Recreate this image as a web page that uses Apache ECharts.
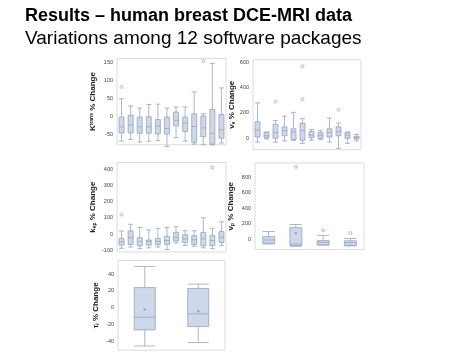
<!DOCTYPE html>
<html><head><meta charset="utf-8">
<script src="https://cdn.jsdelivr.net/npm/echarts@6/dist/echarts.min.js"></script>
<style>html,body{margin:0;padding:0;background:#fff}#c{width:474px;height:355px}</style>
</head><body><div id="c"></div>
<script>
// ---- data ----
const titleText = 'Results – human breast DCE-MRI data';
const subtitleText = 'Variations among 12 software packages';
const packages12 = ['1','2','3','4','5','6','7','8','9','10','11','12'];
const packages4 = ['1','2','3','4'];
const packages2 = ['1','2'];

// [min, Q1, median, Q3, max]
const ktransBoxes = [
  [-70,-47,-30,-3,48],[-65,-47,-25,2,28],[-72,-48,-30,-3,22],[-70,-48,-30,-2,32],
  [-68,-50,-28,-10,33],[-85,-50,-35,-3,22],[-60,-27,-12,11,25],[-70,-43,-20,-3,25],
  [-78,-73,-29,6,67],[-80,-57,-33,0,6],[-80,-78,-48,18,146],[-75,-62,-38,4,78]
];
const ktransOutliers = [[0,81],[9,153]];

const veBoxes = [
  [-30,10,65,130,280],[-5,5,20,45,50],[-30,0,45,110,140],[-20,20,60,90,175],
  [-15,-10,50,75,205],[-40,-15,60,120,155],[-15,5,25,55,70],[-10,0,25,45,60],
  [-30,10,45,75,160],[-80,20,55,90,120],[-40,0,25,45,50],[-20,-5,5,15,30]
];
const veOutliers = [[2,290],[5,570],[5,310],[9,225]];

const kepBoxes = [
  [-88,-68,-47,-27,19],[-80,-64,-23,19,60],[-90,-72,-45,-23,40],[-85,-68,-45,-37,25],
  [-80,-64,-45,-27,35],[-95,-64,-40,-15,40],[-55,-43,-20,10,45],[-70,-52,-30,-5,20],
  [-75,-64,-35,-10,20],[-85,-72,-30,10,100],[-90,-72,-40,-10,35],[-70,-52,-20,15,75]
];
const kepOutliers = [[0,120],[10,410]];

const vpBoxes = [
  [-60,-51,-9,34,100],[-90,-81,-60,150,190],[-75,-73,-40,-17,50],[-85,-80,-45,-20,10]
];
const vpOutliers = [[1,930],[2,115],[3,80]];
const vpMeans = [[1,80]];

const tauBoxes = [
  [-45,-26,-11,24,49],[-41,-22,-7,23,28]
];
const tauMeans = [[0,-2],[1,-4]];

// y tick label steps
const ktransTickStep = 50, veTickStep = 200, kepTickStep = 100, vpTickStep = 200, tauTickStep = 20;

// ---- chart ----
const chart = echarts.init(document.getElementById('c'));
const boxColor = '#cdd8eb', boxBorder = '#95a5c3';
const nameRich = {
  b:{fontSize:8,fontWeight:'bold',color:'#222',fontFamily:'Liberation Sans'},
  sup:{fontSize:5,fontWeight:'bold',color:'#222',verticalAlign:'top',fontFamily:'Liberation Sans'},
  sub:{fontSize:5,fontWeight:'bold',color:'#222',verticalAlign:'bottom',fontFamily:'Liberation Sans'}
};
function yAx(gi,min,max,step,lbl,name,gap){
  return {type:'value',gridIndex:gi,min:min,max:max,interval:step,
    splitLine:{show:false},axisLine:{show:false},axisTick:{show:false},
    axisLabel:{fontSize:5.5,color:'#444',margin:4,fontFamily:'Liberation Sans',
      formatter:function(v){return (Math.round(v)%lbl===0)?String(Math.round(v)):'';}},
    name:name,nameLocation:'middle',nameGap:gap,nameRotate:90,nameTextStyle:{rich:nameRich}};
}
function xAx(gi,cats){
  return {type:'category',gridIndex:gi,data:cats,axisLine:{show:false},axisTick:{show:false},axisLabel:{show:false},splitLine:{show:false}};
}
function box(gi,data,w){
  return {type:'boxplot',xAxisIndex:gi,yAxisIndex:gi,data:data,boxWidth:[w,w],
    itemStyle:{color:boxColor,borderColor:boxBorder,borderWidth:0.8},silent:true};
}
function pts(gi,data,size,filled){
  return {type:'scatter',xAxisIndex:gi,yAxisIndex:gi,data:data,symbol:'circle',symbolSize:size,
    itemStyle:filled?{color:'#8a98b5'}:{color:'#fff',borderColor:'#888',borderWidth:0.7},silent:true};
}
const gridStyle = {show:true,borderColor:'#dcdcdc',borderWidth:1,backgroundColor:'#fff'};
chart.setOption({
  animation:false,
  graphic:[
    {type:'text',left:25,top:7,style:{text:titleText,font:'bold 18px "Liberation Sans"',fill:'#000'}},
    {type:'text',left:25,top:29,style:{text:subtitleText,font:'19px "Liberation Sans"',fill:'#000'}}
  ],
  grid:[
    Object.assign({left:117,top:58.4,width:109,height:86.4},gridStyle),
    Object.assign({left:253,top:59.8,width:108,height:89.9},gridStyle),
    Object.assign({left:117,top:162.5,width:109,height:89.4},gridStyle),
    Object.assign({left:255,top:163,width:109,height:86.4},gridStyle),
    Object.assign({left:118,top:260.5,width:107,height:89.7},gridStyle)
  ],
  xAxis:[xAx(0,packages12),xAx(1,packages12),xAx(2,packages12),xAx(3,packages4),xAx(4,packages2)],
  yAxis:[
    yAx(0,-80,160,10,ktransTickStep,'{b|K}{sup|trans}{b| % Change}',20),
    yAx(1,-90,620,10,veTickStep,'{b|v}{sub|e}{b| % Change}',16),
    yAx(2,-110,440,10,kepTickStep,'{b|k}{sub|ep}{b| % Change}',20),
    yAx(3,-130,980,10,vpTickStep,'{b|v}{sub|p}{b| % Change}',20),
    yAx(4,-50,56,2,tauTickStep,'{b|τ}{sub|i}{b| % Change}',18)
  ],
  series:[
    box(0,ktransBoxes,5),pts(0,ktransOutliers,3,false),
    box(1,veBoxes,5),pts(1,veOutliers,3,false),
    box(2,kepBoxes,5),pts(2,kepOutliers,3,false),
    box(3,vpBoxes,12),pts(3,vpOutliers,3,false),pts(3,vpMeans,2.5,true),
    box(4,tauBoxes,21),pts(4,tauMeans,2.5,true)
  ]
});
</script></body></html>
